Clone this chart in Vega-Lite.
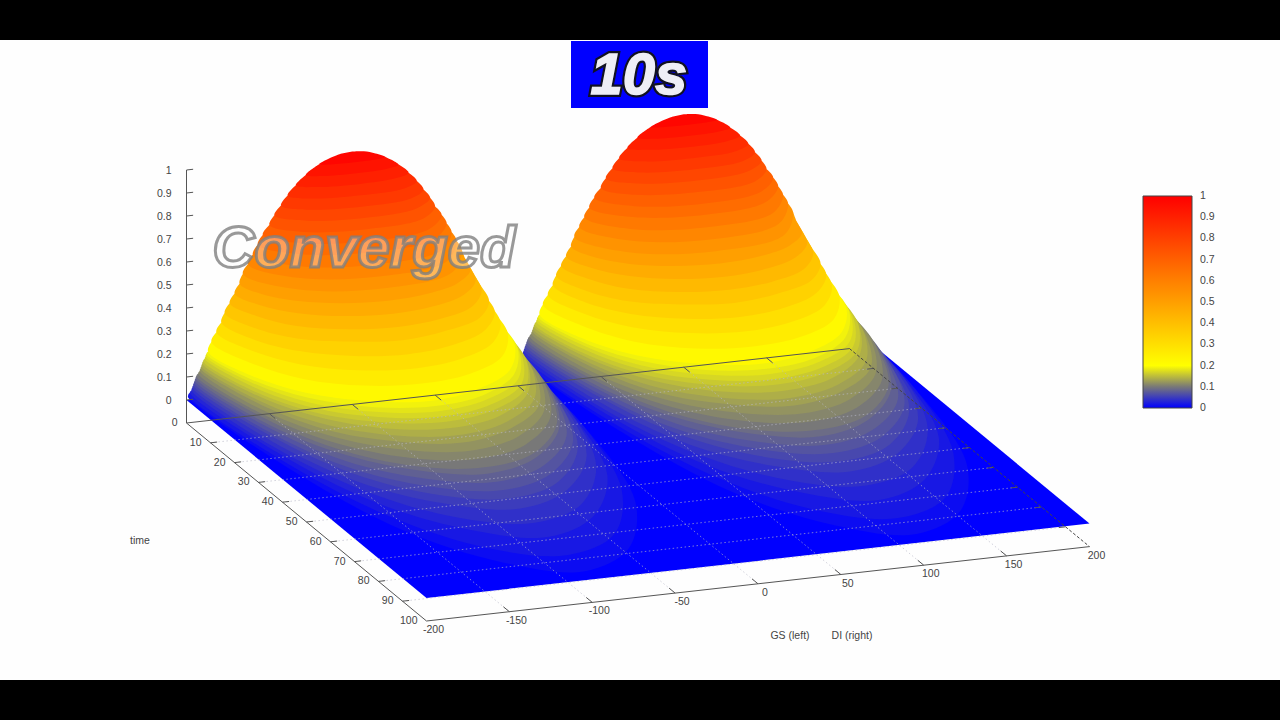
{"$schema":"https://vega.github.io/schema/vega-lite/v6.json","width":1280,"height":640,"autosize":{"type":"none"},"padding":{"top":40,"bottom":40,"left":0,"right":0},"background":"#000000","view":{"fill":"#fefefe","stroke":null},"config":{"text":{"font":"Liberation Sans"}},
"layer":[
{"data":{"values":[{"col":0,"g":-200,"t":0},{"col":0,"g":-200,"t":100},{"col":0,"g":200,"t":100},{"col":0,"g":200,"t":0}]},
"transform":[{"window":[{"op":"row_number","as":"i"}]},{"calculate":"186.5+1.6575*(datum.g+200)+2.4*datum.t","as":"sx"},{"calculate":"400-0.186*(datum.g+200)+1.98*datum.t","as":"sy"}],
"mark":{"type":"line","filled":true,"interpolate":"linear"},
"encoding":{"x":{"field":"sx","type":"quantitative","scale":{"domain":[0,1280],"nice":false,"zero":false},"axis":null},"y":{"field":"sy","type":"quantitative","scale":{"domain":[680,40],"nice":false,"zero":false},"axis":null},"order":{"field":"i","type":"quantitative"},
"color":{"field":"col","type":"quantitative","scale":{"domain":[0,0.1,0.2,1],"range":["#0000ff","#787878","#ffff00","#ff0000"],"interpolate":"rgb"},"legend":{"title":null,"orient":"none","legendX":1143,"legendY":156,"gradientLength":212,"gradientThickness":49,"values":[0,0.2,0.4,0.6,0.8,1],"labelExpr":"''","gradientStrokeColor":"#444444","gradientStrokeWidth":1}}}},
{"data":{"values":[
{"c":0.01,"g":199,"t":0,"z":0.02},{"c":0.01,"g":199,"t":0},{"c":0.01,"g":191,"t":37},{"c":0.01,"g":171,"t":69},{"c":0.01,"g":138,"t":89},{"c":0.01,"g":100,"t":97},{"c":0.01,"g":62,"t":89},{"c":0.01,"g":29,"t":69},{"c":0.01,"g":9,"t":37},{"c":0.01,"g":1,"t":0},{"c":0.01,"g":1,"t":0,"z":0.02},
{"c":0.02,"g":198,"t":0,"z":0.03},{"c":0.02,"g":199,"t":0},{"c":0.02,"g":191,"t":34},{"c":0.02,"g":170,"t":64},{"c":0.02,"g":138,"t":83},{"c":0.02,"g":100,"t":90},{"c":0.02,"g":62,"t":83},{"c":0.02,"g":30,"t":64},{"c":0.02,"g":9,"t":34},{"c":0.02,"g":1,"t":0},{"c":0.02,"g":2,"t":0,"z":0.03},
{"c":0.03,"g":197,"t":0,"z":0.04},{"c":0.03,"g":198,"t":0},{"c":0.03,"g":190,"t":31},{"c":0.03,"g":170,"t":58},{"c":0.03,"g":137,"t":75},{"c":0.03,"g":100,"t":82},{"c":0.03,"g":63,"t":75},{"c":0.03,"g":30,"t":58},{"c":0.03,"g":10,"t":31},{"c":0.03,"g":2,"t":0},{"c":0.03,"g":3,"t":0,"z":0.04},
{"c":0.04,"g":196.5,"t":0,"z":0.05},{"c":0.04,"g":197,"t":0},{"c":0.04,"g":190,"t":29},{"c":0.04,"g":169,"t":54},{"c":0.04,"g":137,"t":70},{"c":0.04,"g":100,"t":76},{"c":0.04,"g":63,"t":70},{"c":0.04,"g":31,"t":54},{"c":0.04,"g":10,"t":29},{"c":0.04,"g":3,"t":0},{"c":0.04,"g":3.5,"t":0,"z":0.05},
{"c":0.05,"g":196,"t":0,"z":0.06},{"c":0.05,"g":196.5,"t":0},{"c":0.05,"g":189,"t":27},{"c":0.05,"g":169,"t":50},{"c":0.05,"g":137,"t":64},{"c":0.05,"g":100,"t":70},{"c":0.05,"g":63,"t":64},{"c":0.05,"g":31,"t":50},{"c":0.05,"g":11,"t":27},{"c":0.05,"g":3.5,"t":0},{"c":0.05,"g":4,"t":0,"z":0.06},
{"c":0.06,"g":195.5,"t":0,"z":0.07},{"c":0.06,"g":196,"t":0},{"c":0.06,"g":188,"t":25},{"c":0.06,"g":168,"t":47},{"c":0.06,"g":136,"t":61},{"c":0.06,"g":100,"t":66},{"c":0.06,"g":64,"t":61},{"c":0.06,"g":32,"t":47},{"c":0.06,"g":12,"t":25},{"c":0.06,"g":4,"t":0},{"c":0.06,"g":4.5,"t":0,"z":0.07},
{"c":0.07,"g":195,"t":0,"z":0.08},{"c":0.07,"g":195.5,"t":0},{"c":0.07,"g":188,"t":24},{"c":0.07,"g":168,"t":45},{"c":0.07,"g":136,"t":58},{"c":0.07,"g":100,"t":63},{"c":0.07,"g":64,"t":58},{"c":0.07,"g":32,"t":45},{"c":0.07,"g":12,"t":24},{"c":0.07,"g":4.5,"t":0},{"c":0.07,"g":5,"t":0,"z":0.08},
{"c":0.08,"g":194.5,"t":0,"z":0.09},{"c":0.08,"g":195,"t":0},{"c":0.08,"g":187,"t":23},{"c":0.08,"g":167,"t":43},{"c":0.08,"g":136,"t":55},{"c":0.08,"g":100,"t":60},{"c":0.08,"g":64,"t":55},{"c":0.08,"g":33,"t":43},{"c":0.08,"g":13,"t":23},{"c":0.08,"g":5,"t":0},{"c":0.08,"g":5.5,"t":0,"z":0.09},
{"c":0.09,"g":194,"t":0,"z":0.1},{"c":0.09,"g":194.5,"t":0},{"c":0.09,"g":187,"t":22},{"c":0.09,"g":167,"t":40},{"c":0.09,"g":136,"t":52},{"c":0.09,"g":100,"t":57},{"c":0.09,"g":64,"t":52},{"c":0.09,"g":33,"t":40},{"c":0.09,"g":13,"t":22},{"c":0.09,"g":5.5,"t":0},{"c":0.09,"g":6,"t":0,"z":0.1},
{"c":0.1,"g":193,"t":0,"z":0.11},{"c":0.1,"g":194,"t":0},{"c":0.1,"g":186,"t":21},{"c":0.1,"g":167,"t":39},{"c":0.1,"g":136,"t":51},{"c":0.1,"g":100,"t":55},{"c":0.1,"g":64,"t":51},{"c":0.1,"g":33,"t":39},{"c":0.1,"g":14,"t":21},{"c":0.1,"g":6,"t":0},{"c":0.1,"g":7,"t":0,"z":0.11},
{"c":0.11,"g":192,"t":0,"z":0.12},{"c":0.11,"g":193,"t":0},{"c":0.11,"g":186,"t":20},{"c":0.11,"g":166,"t":37},{"c":0.11,"g":135,"t":48},{"c":0.11,"g":100,"t":52},{"c":0.11,"g":65,"t":48},{"c":0.11,"g":34,"t":37},{"c":0.11,"g":14,"t":20},{"c":0.11,"g":7,"t":0},{"c":0.11,"g":8,"t":0,"z":0.12},
{"c":0.12,"g":191.5,"t":0,"z":0.13},{"c":0.12,"g":192,"t":0},{"c":0.12,"g":185,"t":19},{"c":0.12,"g":165,"t":35},{"c":0.12,"g":135,"t":45},{"c":0.12,"g":100,"t":49},{"c":0.12,"g":65,"t":45},{"c":0.12,"g":35,"t":35},{"c":0.12,"g":15,"t":19},{"c":0.12,"g":8,"t":0},{"c":0.12,"g":8.5,"t":0,"z":0.13},
{"c":0.13,"g":191,"t":0,"z":0.14},{"c":0.13,"g":191.5,"t":0},{"c":0.13,"g":184,"t":17.5},{"c":0.13,"g":165,"t":33},{"c":0.13,"g":135,"t":42},{"c":0.13,"g":100,"t":46},{"c":0.13,"g":65,"t":42},{"c":0.13,"g":35,"t":33},{"c":0.13,"g":16,"t":17.5},{"c":0.13,"g":8.5,"t":0},{"c":0.13,"g":9,"t":0,"z":0.14},
{"c":0.14,"g":190.5,"t":0,"z":0.15},{"c":0.14,"g":191,"t":0},{"c":0.14,"g":184,"t":16.5},{"c":0.14,"g":165,"t":31},{"c":0.14,"g":135,"t":40},{"c":0.14,"g":100,"t":43.5},{"c":0.14,"g":65,"t":40},{"c":0.14,"g":35,"t":31},{"c":0.14,"g":16,"t":16.5},{"c":0.14,"g":9,"t":0},{"c":0.14,"g":9.5,"t":0,"z":0.15},
{"c":0.15,"g":190,"t":0,"z":0.16},{"c":0.15,"g":190.5,"t":0},{"c":0.15,"g":183,"t":15.6},{"c":0.15,"g":164,"t":29},{"c":0.15,"g":134,"t":38},{"c":0.15,"g":100,"t":41},{"c":0.15,"g":66,"t":38},{"c":0.15,"g":36,"t":29},{"c":0.15,"g":17,"t":15.6},{"c":0.15,"g":9.5,"t":0},{"c":0.15,"g":10,"t":0,"z":0.16},
{"c":0.16,"g":189,"t":0,"z":0.17},{"c":0.16,"g":190,"t":0},{"c":0.16,"g":183,"t":15},{"c":0.16,"g":164,"t":28},{"c":0.16,"g":134,"t":36},{"c":0.16,"g":100,"t":39},{"c":0.16,"g":66,"t":36},{"c":0.16,"g":36,"t":28},{"c":0.16,"g":17,"t":15},{"c":0.16,"g":10,"t":0},{"c":0.16,"g":11,"t":0,"z":0.17},
{"c":0.17,"g":188.5,"t":0,"z":0.18},{"c":0.17,"g":189,"t":0},{"c":0.17,"g":182,"t":14},{"c":0.17,"g":163,"t":27},{"c":0.17,"g":134,"t":34.5},{"c":0.17,"g":100,"t":37.5},{"c":0.17,"g":66,"t":34.5},{"c":0.17,"g":37,"t":27},{"c":0.17,"g":18,"t":14},{"c":0.17,"g":11,"t":0},{"c":0.17,"g":11.5,"t":0,"z":0.18},
{"c":0.18,"g":188,"t":0,"z":0.19},{"c":0.18,"g":188.5,"t":0},{"c":0.18,"g":181,"t":13.7},{"c":0.18,"g":163,"t":25.6},{"c":0.18,"g":134,"t":33},{"c":0.18,"g":100,"t":36},{"c":0.18,"g":66,"t":33},{"c":0.18,"g":37,"t":25.6},{"c":0.18,"g":19,"t":13.7},{"c":0.18,"g":11.5,"t":0},{"c":0.18,"g":12,"t":0,"z":0.19},
{"c":0.19,"g":187,"t":0,"z":0.2},{"c":0.19,"g":188,"t":0},{"c":0.19,"g":181,"t":13},{"c":0.19,"g":162,"t":24.5},{"c":0.19,"g":133,"t":32},{"c":0.19,"g":100,"t":34.5},{"c":0.19,"g":67,"t":32},{"c":0.19,"g":38,"t":24.5},{"c":0.19,"g":19,"t":13},{"c":0.19,"g":12,"t":0},{"c":0.19,"g":13,"t":0,"z":0.2},
{"c":0.2,"g":185,"t":0,"z":0.24},{"c":0.2,"g":187,"t":0},{"c":0.2,"g":180,"t":12.5},{"c":0.2,"g":162,"t":23},{"c":0.2,"g":133,"t":30},{"c":0.2,"g":100,"t":33},{"c":0.2,"g":67,"t":30},{"c":0.2,"g":38,"t":23},{"c":0.2,"g":20,"t":12.5},{"c":0.2,"g":13,"t":0},{"c":0.2,"g":15,"t":0,"z":0.24},
{"c":0.24,"g":182,"t":0,"z":0.28},{"c":0.24,"g":185,"t":0},{"c":0.24,"g":178,"t":11},{"c":0.24,"g":160,"t":21},{"c":0.24,"g":132,"t":27},{"c":0.24,"g":100,"t":29},{"c":0.24,"g":68,"t":27},{"c":0.24,"g":40,"t":21},{"c":0.24,"g":22,"t":11},{"c":0.24,"g":15,"t":0},{"c":0.24,"g":18,"t":0,"z":0.28},
{"c":0.28,"g":179,"t":0,"z":0.32},{"c":0.28,"g":182,"t":0},{"c":0.28,"g":175,"t":10},{"c":0.28,"g":158,"t":18.5},{"c":0.28,"g":131,"t":24},{"c":0.28,"g":100,"t":26},{"c":0.28,"g":69,"t":24},{"c":0.28,"g":42,"t":18.5},{"c":0.28,"g":25,"t":10},{"c":0.28,"g":18,"t":0},{"c":0.28,"g":21,"t":0,"z":0.32},
{"c":0.32,"g":177,"t":0,"z":0.36},{"c":0.32,"g":179,"t":0},{"c":0.32,"g":173,"t":9},{"c":0.32,"g":156,"t":16.6},{"c":0.32,"g":130,"t":21.5},{"c":0.32,"g":100,"t":23.4},{"c":0.32,"g":70,"t":21.5},{"c":0.32,"g":44,"t":16.6},{"c":0.32,"g":27,"t":9},{"c":0.32,"g":21,"t":0},{"c":0.32,"g":23,"t":0,"z":0.36},
{"c":0.36,"g":174,"t":0,"z":0.4},{"c":0.36,"g":177,"t":0},{"c":0.36,"g":171,"t":8},{"c":0.36,"g":155,"t":15},{"c":0.36,"g":129,"t":19},{"c":0.36,"g":100,"t":21},{"c":0.36,"g":71,"t":19},{"c":0.36,"g":45,"t":15},{"c":0.36,"g":29,"t":8},{"c":0.36,"g":23,"t":0},{"c":0.36,"g":26,"t":0,"z":0.4},
{"c":0.4,"g":171,"t":0,"z":0.44},{"c":0.4,"g":174,"t":0},{"c":0.4,"g":168,"t":7},{"c":0.4,"g":153,"t":13.5},{"c":0.4,"g":128,"t":17.5},{"c":0.4,"g":100,"t":19},{"c":0.4,"g":72,"t":17.5},{"c":0.4,"g":47,"t":13.5},{"c":0.4,"g":32,"t":7},{"c":0.4,"g":26,"t":0},{"c":0.4,"g":29,"t":0,"z":0.44},
{"c":0.44,"g":168,"t":0,"z":0.48},{"c":0.44,"g":171,"t":0},{"c":0.44,"g":165,"t":6.5},{"c":0.44,"g":150,"t":12},{"c":0.44,"g":127,"t":15.6},{"c":0.44,"g":100,"t":17},{"c":0.44,"g":73,"t":15.6},{"c":0.44,"g":50,"t":12},{"c":0.44,"g":35,"t":6.5},{"c":0.44,"g":29,"t":0},{"c":0.44,"g":32,"t":0,"z":0.48},
{"c":0.48,"g":166,"t":0,"z":0.52},{"c":0.48,"g":168,"t":0},{"c":0.48,"g":163,"t":5.7},{"c":0.48,"g":148,"t":10.7},{"c":0.48,"g":126,"t":13.8},{"c":0.48,"g":100,"t":15},{"c":0.48,"g":74,"t":13.8},{"c":0.48,"g":52,"t":10.7},{"c":0.48,"g":37,"t":5.7},{"c":0.48,"g":32,"t":0},{"c":0.48,"g":34,"t":0,"z":0.52},
{"c":0.52,"g":163,"t":0,"z":0.56},{"c":0.52,"g":166,"t":0},{"c":0.52,"g":147,"t":9.5},{"c":0.52,"g":100,"t":13.4},{"c":0.52,"g":53,"t":9.5},{"c":0.52,"g":34,"t":0},{"c":0.52,"g":37,"t":0,"z":0.56},
{"c":0.56,"g":160,"t":0,"z":0.6},{"c":0.56,"g":163,"t":0},{"c":0.56,"g":145,"t":8.5},{"c":0.56,"g":100,"t":12},{"c":0.56,"g":55,"t":8.5},{"c":0.56,"g":37,"t":0},{"c":0.56,"g":40,"t":0,"z":0.6},
{"c":0.6,"g":157,"t":0,"z":0.64},{"c":0.6,"g":160,"t":0},{"c":0.6,"g":143,"t":7.5},{"c":0.6,"g":100,"t":10.5},{"c":0.6,"g":57,"t":7.5},{"c":0.6,"g":40,"t":0},{"c":0.6,"g":43,"t":0,"z":0.64},
{"c":0.64,"g":154,"t":0,"z":0.68},{"c":0.64,"g":157,"t":0},{"c":0.64,"g":140,"t":6.4},{"c":0.64,"g":100,"t":9},{"c":0.64,"g":60,"t":6.4},{"c":0.64,"g":43,"t":0},{"c":0.64,"g":46,"t":0,"z":0.68},
{"c":0.68,"g":150,"t":0,"z":0.72},{"c":0.68,"g":154,"t":0},{"c":0.68,"g":138,"t":5.7},{"c":0.68,"g":100,"t":8},{"c":0.68,"g":62,"t":5.7},{"c":0.68,"g":46,"t":0},{"c":0.68,"g":50,"t":0,"z":0.72},
{"c":0.72,"g":147,"t":0,"z":0.76},{"c":0.72,"g":150,"t":0},{"c":0.72,"g":136,"t":4.8},{"c":0.72,"g":100,"t":6.7},{"c":0.72,"g":64,"t":4.8},{"c":0.72,"g":50,"t":0},{"c":0.72,"g":53,"t":0,"z":0.76},
{"c":0.76,"g":143,"t":0,"z":0.8},{"c":0.76,"g":147,"t":0},{"c":0.76,"g":133,"t":4},{"c":0.76,"g":100,"t":5.6},{"c":0.76,"g":67,"t":4},{"c":0.76,"g":53,"t":0},{"c":0.76,"g":57,"t":0,"z":0.8},
{"c":0.8,"g":139,"t":0,"z":0.84},{"c":0.8,"g":143,"t":0},{"c":0.8,"g":131,"t":3.3},{"c":0.8,"g":100,"t":4.6},{"c":0.8,"g":69,"t":3.3},{"c":0.8,"g":57,"t":0},{"c":0.8,"g":61,"t":0,"z":0.84},
{"c":0.84,"g":134,"t":0,"z":0.88},{"c":0.84,"g":139,"t":0},{"c":0.84,"g":128,"t":2.6},{"c":0.84,"g":100,"t":3.6},{"c":0.84,"g":72,"t":2.6},{"c":0.84,"g":61,"t":0},{"c":0.84,"g":66,"t":0,"z":0.88},
{"c":0.88,"g":128,"t":0,"z":0.92},{"c":0.88,"g":134,"t":0},{"c":0.88,"g":124,"t":1.8},{"c":0.88,"g":100,"t":2.6},{"c":0.88,"g":76,"t":1.8},{"c":0.88,"g":66,"t":0},{"c":0.88,"g":72,"t":0,"z":0.92},
{"c":0.92,"g":120,"t":0,"z":0.96},{"c":0.92,"g":128,"t":0},{"c":0.92,"g":120,"t":1.2},{"c":0.92,"g":100,"t":1.7},{"c":0.92,"g":80,"t":1.2},{"c":0.92,"g":72,"t":0},{"c":0.92,"g":80,"t":0,"z":0.96},
{"c":0.96,"g":100,"t":0,"z":1},{"c":0.96,"g":107,"t":0,"z":0.995},{"c":0.96,"g":114,"t":0,"z":0.98},{"c":0.96,"g":120,"t":0},{"c":0.96,"g":114,"t":0.6},{"c":0.96,"g":100,"t":0.8},{"c":0.96,"g":86,"t":0.6},{"c":0.96,"g":80,"t":0},{"c":0.96,"g":86,"t":0,"z":0.98},{"c":0.96,"g":93,"t":0,"z":0.995},
{"c":0.01,"g":-1,"t":0,"z":0.02},{"c":0.01,"g":-1,"t":0},{"c":0.01,"g":-9,"t":37},{"c":0.01,"g":-29,"t":69},{"c":0.01,"g":-62,"t":89},{"c":0.01,"g":-100,"t":97},{"c":0.01,"g":-138,"t":89},{"c":0.01,"g":-171,"t":69},{"c":0.01,"g":-191,"t":37},{"c":0.01,"g":-199,"t":0},{"c":0.01,"g":-199,"t":0,"z":0.02},
{"c":0.02,"g":-2,"t":0,"z":0.03},{"c":0.02,"g":-1,"t":0},{"c":0.02,"g":-9,"t":34},{"c":0.02,"g":-30,"t":64},{"c":0.02,"g":-62,"t":83},{"c":0.02,"g":-100,"t":90},{"c":0.02,"g":-138,"t":83},{"c":0.02,"g":-170,"t":64},{"c":0.02,"g":-191,"t":34},{"c":0.02,"g":-199,"t":0},{"c":0.02,"g":-198,"t":0,"z":0.03},
{"c":0.03,"g":-3,"t":0,"z":0.04},{"c":0.03,"g":-2,"t":0},{"c":0.03,"g":-10,"t":31},{"c":0.03,"g":-30,"t":58},{"c":0.03,"g":-63,"t":75},{"c":0.03,"g":-100,"t":82},{"c":0.03,"g":-137,"t":75},{"c":0.03,"g":-170,"t":58},{"c":0.03,"g":-190,"t":31},{"c":0.03,"g":-198,"t":0},{"c":0.03,"g":-197,"t":0,"z":0.04},
{"c":0.04,"g":-3.5,"t":0,"z":0.05},{"c":0.04,"g":-3,"t":0},{"c":0.04,"g":-10,"t":29},{"c":0.04,"g":-31,"t":54},{"c":0.04,"g":-63,"t":70},{"c":0.04,"g":-100,"t":76},{"c":0.04,"g":-137,"t":70},{"c":0.04,"g":-169,"t":54},{"c":0.04,"g":-190,"t":29},{"c":0.04,"g":-197,"t":0},{"c":0.04,"g":-196.5,"t":0,"z":0.05},
{"c":0.05,"g":-4,"t":0,"z":0.06},{"c":0.05,"g":-3.5,"t":0},{"c":0.05,"g":-11,"t":27},{"c":0.05,"g":-31,"t":50},{"c":0.05,"g":-63,"t":64},{"c":0.05,"g":-100,"t":70},{"c":0.05,"g":-137,"t":64},{"c":0.05,"g":-169,"t":50},{"c":0.05,"g":-189,"t":27},{"c":0.05,"g":-196.5,"t":0},{"c":0.05,"g":-196,"t":0,"z":0.06},
{"c":0.06,"g":-4.5,"t":0,"z":0.07},{"c":0.06,"g":-4,"t":0},{"c":0.06,"g":-12,"t":25},{"c":0.06,"g":-32,"t":47},{"c":0.06,"g":-64,"t":61},{"c":0.06,"g":-100,"t":66},{"c":0.06,"g":-136,"t":61},{"c":0.06,"g":-168,"t":47},{"c":0.06,"g":-188,"t":25},{"c":0.06,"g":-196,"t":0},{"c":0.06,"g":-195.5,"t":0,"z":0.07},
{"c":0.07,"g":-5,"t":0,"z":0.08},{"c":0.07,"g":-4.5,"t":0},{"c":0.07,"g":-12,"t":24},{"c":0.07,"g":-32,"t":45},{"c":0.07,"g":-64,"t":58},{"c":0.07,"g":-100,"t":63},{"c":0.07,"g":-136,"t":58},{"c":0.07,"g":-168,"t":45},{"c":0.07,"g":-188,"t":24},{"c":0.07,"g":-195.5,"t":0},{"c":0.07,"g":-195,"t":0,"z":0.08},
{"c":0.08,"g":-5.5,"t":0,"z":0.09},{"c":0.08,"g":-5,"t":0},{"c":0.08,"g":-13,"t":23},{"c":0.08,"g":-33,"t":43},{"c":0.08,"g":-64,"t":55},{"c":0.08,"g":-100,"t":60},{"c":0.08,"g":-136,"t":55},{"c":0.08,"g":-167,"t":43},{"c":0.08,"g":-187,"t":23},{"c":0.08,"g":-195,"t":0},{"c":0.08,"g":-194.5,"t":0,"z":0.09},
{"c":0.09,"g":-6,"t":0,"z":0.1},{"c":0.09,"g":-5.5,"t":0},{"c":0.09,"g":-13,"t":22},{"c":0.09,"g":-33,"t":40},{"c":0.09,"g":-64,"t":52},{"c":0.09,"g":-100,"t":57},{"c":0.09,"g":-136,"t":52},{"c":0.09,"g":-167,"t":40},{"c":0.09,"g":-187,"t":22},{"c":0.09,"g":-194.5,"t":0},{"c":0.09,"g":-194,"t":0,"z":0.1},
{"c":0.1,"g":-7,"t":0,"z":0.11},{"c":0.1,"g":-6,"t":0},{"c":0.1,"g":-14,"t":21},{"c":0.1,"g":-33,"t":39},{"c":0.1,"g":-64,"t":51},{"c":0.1,"g":-100,"t":55},{"c":0.1,"g":-136,"t":51},{"c":0.1,"g":-167,"t":39},{"c":0.1,"g":-186,"t":21},{"c":0.1,"g":-194,"t":0},{"c":0.1,"g":-193,"t":0,"z":0.11},
{"c":0.11,"g":-8,"t":0,"z":0.12},{"c":0.11,"g":-7,"t":0},{"c":0.11,"g":-14,"t":20},{"c":0.11,"g":-34,"t":37},{"c":0.11,"g":-65,"t":48},{"c":0.11,"g":-100,"t":52},{"c":0.11,"g":-135,"t":48},{"c":0.11,"g":-166,"t":37},{"c":0.11,"g":-186,"t":20},{"c":0.11,"g":-193,"t":0},{"c":0.11,"g":-192,"t":0,"z":0.12},
{"c":0.12,"g":-8.5,"t":0,"z":0.13},{"c":0.12,"g":-8,"t":0},{"c":0.12,"g":-15,"t":19},{"c":0.12,"g":-35,"t":35},{"c":0.12,"g":-65,"t":45},{"c":0.12,"g":-100,"t":49},{"c":0.12,"g":-135,"t":45},{"c":0.12,"g":-165,"t":35},{"c":0.12,"g":-185,"t":19},{"c":0.12,"g":-192,"t":0},{"c":0.12,"g":-191.5,"t":0,"z":0.13},
{"c":0.13,"g":-9,"t":0,"z":0.14},{"c":0.13,"g":-8.5,"t":0},{"c":0.13,"g":-16,"t":17.5},{"c":0.13,"g":-35,"t":33},{"c":0.13,"g":-65,"t":42},{"c":0.13,"g":-100,"t":46},{"c":0.13,"g":-135,"t":42},{"c":0.13,"g":-165,"t":33},{"c":0.13,"g":-184,"t":17.5},{"c":0.13,"g":-191.5,"t":0},{"c":0.13,"g":-191,"t":0,"z":0.14},
{"c":0.14,"g":-9.5,"t":0,"z":0.15},{"c":0.14,"g":-9,"t":0},{"c":0.14,"g":-16,"t":16.5},{"c":0.14,"g":-35,"t":31},{"c":0.14,"g":-65,"t":40},{"c":0.14,"g":-100,"t":43.5},{"c":0.14,"g":-135,"t":40},{"c":0.14,"g":-165,"t":31},{"c":0.14,"g":-184,"t":16.5},{"c":0.14,"g":-191,"t":0},{"c":0.14,"g":-190.5,"t":0,"z":0.15},
{"c":0.15,"g":-10,"t":0,"z":0.16},{"c":0.15,"g":-9.5,"t":0},{"c":0.15,"g":-17,"t":15.6},{"c":0.15,"g":-36,"t":29},{"c":0.15,"g":-66,"t":38},{"c":0.15,"g":-100,"t":41},{"c":0.15,"g":-134,"t":38},{"c":0.15,"g":-164,"t":29},{"c":0.15,"g":-183,"t":15.6},{"c":0.15,"g":-190.5,"t":0},{"c":0.15,"g":-190,"t":0,"z":0.16},
{"c":0.16,"g":-11,"t":0,"z":0.17},{"c":0.16,"g":-10,"t":0},{"c":0.16,"g":-17,"t":15},{"c":0.16,"g":-36,"t":28},{"c":0.16,"g":-66,"t":36},{"c":0.16,"g":-100,"t":39},{"c":0.16,"g":-134,"t":36},{"c":0.16,"g":-164,"t":28},{"c":0.16,"g":-183,"t":15},{"c":0.16,"g":-190,"t":0},{"c":0.16,"g":-189,"t":0,"z":0.17},
{"c":0.17,"g":-11.5,"t":0,"z":0.18},{"c":0.17,"g":-11,"t":0},{"c":0.17,"g":-18,"t":14},{"c":0.17,"g":-37,"t":27},{"c":0.17,"g":-66,"t":34.5},{"c":0.17,"g":-100,"t":37.5},{"c":0.17,"g":-134,"t":34.5},{"c":0.17,"g":-163,"t":27},{"c":0.17,"g":-182,"t":14},{"c":0.17,"g":-189,"t":0},{"c":0.17,"g":-188.5,"t":0,"z":0.18},
{"c":0.18,"g":-12,"t":0,"z":0.19},{"c":0.18,"g":-11.5,"t":0},{"c":0.18,"g":-19,"t":13.7},{"c":0.18,"g":-37,"t":25.6},{"c":0.18,"g":-66,"t":33},{"c":0.18,"g":-100,"t":36},{"c":0.18,"g":-134,"t":33},{"c":0.18,"g":-163,"t":25.6},{"c":0.18,"g":-181,"t":13.7},{"c":0.18,"g":-188.5,"t":0},{"c":0.18,"g":-188,"t":0,"z":0.19},
{"c":0.19,"g":-13,"t":0,"z":0.2},{"c":0.19,"g":-12,"t":0},{"c":0.19,"g":-19,"t":13},{"c":0.19,"g":-38,"t":24.5},{"c":0.19,"g":-67,"t":32},{"c":0.19,"g":-100,"t":34.5},{"c":0.19,"g":-133,"t":32},{"c":0.19,"g":-162,"t":24.5},{"c":0.19,"g":-181,"t":13},{"c":0.19,"g":-188,"t":0},{"c":0.19,"g":-187,"t":0,"z":0.2},
{"c":0.2,"g":-15,"t":0,"z":0.24},{"c":0.2,"g":-13,"t":0},{"c":0.2,"g":-20,"t":12.5},{"c":0.2,"g":-38,"t":23},{"c":0.2,"g":-67,"t":30},{"c":0.2,"g":-100,"t":33},{"c":0.2,"g":-133,"t":30},{"c":0.2,"g":-162,"t":23},{"c":0.2,"g":-180,"t":12.5},{"c":0.2,"g":-187,"t":0},{"c":0.2,"g":-185,"t":0,"z":0.24},
{"c":0.24,"g":-18,"t":0,"z":0.28},{"c":0.24,"g":-15,"t":0},{"c":0.24,"g":-22,"t":11},{"c":0.24,"g":-40,"t":21},{"c":0.24,"g":-68,"t":27},{"c":0.24,"g":-100,"t":29},{"c":0.24,"g":-132,"t":27},{"c":0.24,"g":-160,"t":21},{"c":0.24,"g":-178,"t":11},{"c":0.24,"g":-185,"t":0},{"c":0.24,"g":-182,"t":0,"z":0.28},
{"c":0.28,"g":-21,"t":0,"z":0.32},{"c":0.28,"g":-18,"t":0},{"c":0.28,"g":-25,"t":10},{"c":0.28,"g":-42,"t":18.5},{"c":0.28,"g":-69,"t":24},{"c":0.28,"g":-100,"t":26},{"c":0.28,"g":-131,"t":24},{"c":0.28,"g":-158,"t":18.5},{"c":0.28,"g":-175,"t":10},{"c":0.28,"g":-182,"t":0},{"c":0.28,"g":-179,"t":0,"z":0.32},
{"c":0.32,"g":-23,"t":0,"z":0.36},{"c":0.32,"g":-21,"t":0},{"c":0.32,"g":-27,"t":9},{"c":0.32,"g":-44,"t":16.6},{"c":0.32,"g":-70,"t":21.5},{"c":0.32,"g":-100,"t":23.4},{"c":0.32,"g":-130,"t":21.5},{"c":0.32,"g":-156,"t":16.6},{"c":0.32,"g":-173,"t":9},{"c":0.32,"g":-179,"t":0},{"c":0.32,"g":-177,"t":0,"z":0.36},
{"c":0.36,"g":-26,"t":0,"z":0.4},{"c":0.36,"g":-23,"t":0},{"c":0.36,"g":-29,"t":8},{"c":0.36,"g":-45,"t":15},{"c":0.36,"g":-71,"t":19},{"c":0.36,"g":-100,"t":21},{"c":0.36,"g":-129,"t":19},{"c":0.36,"g":-155,"t":15},{"c":0.36,"g":-171,"t":8},{"c":0.36,"g":-177,"t":0},{"c":0.36,"g":-174,"t":0,"z":0.4},
{"c":0.4,"g":-29,"t":0,"z":0.44},{"c":0.4,"g":-26,"t":0},{"c":0.4,"g":-32,"t":7},{"c":0.4,"g":-47,"t":13.5},{"c":0.4,"g":-72,"t":17.5},{"c":0.4,"g":-100,"t":19},{"c":0.4,"g":-128,"t":17.5},{"c":0.4,"g":-153,"t":13.5},{"c":0.4,"g":-168,"t":7},{"c":0.4,"g":-174,"t":0},{"c":0.4,"g":-171,"t":0,"z":0.44},
{"c":0.44,"g":-32,"t":0,"z":0.48},{"c":0.44,"g":-29,"t":0},{"c":0.44,"g":-35,"t":6.5},{"c":0.44,"g":-50,"t":12},{"c":0.44,"g":-73,"t":15.6},{"c":0.44,"g":-100,"t":17},{"c":0.44,"g":-127,"t":15.6},{"c":0.44,"g":-150,"t":12},{"c":0.44,"g":-165,"t":6.5},{"c":0.44,"g":-171,"t":0},{"c":0.44,"g":-168,"t":0,"z":0.48},
{"c":0.48,"g":-34,"t":0,"z":0.52},{"c":0.48,"g":-32,"t":0},{"c":0.48,"g":-37,"t":5.7},{"c":0.48,"g":-52,"t":10.7},{"c":0.48,"g":-74,"t":13.8},{"c":0.48,"g":-100,"t":15},{"c":0.48,"g":-126,"t":13.8},{"c":0.48,"g":-148,"t":10.7},{"c":0.48,"g":-163,"t":5.7},{"c":0.48,"g":-168,"t":0},{"c":0.48,"g":-166,"t":0,"z":0.52},
{"c":0.52,"g":-37,"t":0,"z":0.56},{"c":0.52,"g":-34,"t":0},{"c":0.52,"g":-53,"t":9.5},{"c":0.52,"g":-100,"t":13.4},{"c":0.52,"g":-147,"t":9.5},{"c":0.52,"g":-166,"t":0},{"c":0.52,"g":-163,"t":0,"z":0.56},
{"c":0.56,"g":-40,"t":0,"z":0.6},{"c":0.56,"g":-37,"t":0},{"c":0.56,"g":-55,"t":8.5},{"c":0.56,"g":-100,"t":12},{"c":0.56,"g":-145,"t":8.5},{"c":0.56,"g":-163,"t":0},{"c":0.56,"g":-160,"t":0,"z":0.6},
{"c":0.6,"g":-43,"t":0,"z":0.64},{"c":0.6,"g":-40,"t":0},{"c":0.6,"g":-57,"t":7.5},{"c":0.6,"g":-100,"t":10.5},{"c":0.6,"g":-143,"t":7.5},{"c":0.6,"g":-160,"t":0},{"c":0.6,"g":-157,"t":0,"z":0.64},
{"c":0.64,"g":-46,"t":0,"z":0.68},{"c":0.64,"g":-43,"t":0},{"c":0.64,"g":-60,"t":6.4},{"c":0.64,"g":-100,"t":9},{"c":0.64,"g":-140,"t":6.4},{"c":0.64,"g":-157,"t":0},{"c":0.64,"g":-154,"t":0,"z":0.68},
{"c":0.68,"g":-50,"t":0,"z":0.72},{"c":0.68,"g":-46,"t":0},{"c":0.68,"g":-62,"t":5.7},{"c":0.68,"g":-100,"t":8},{"c":0.68,"g":-138,"t":5.7},{"c":0.68,"g":-154,"t":0},{"c":0.68,"g":-150,"t":0,"z":0.72},
{"c":0.72,"g":-53,"t":0,"z":0.76},{"c":0.72,"g":-50,"t":0},{"c":0.72,"g":-64,"t":4.8},{"c":0.72,"g":-100,"t":6.7},{"c":0.72,"g":-136,"t":4.8},{"c":0.72,"g":-150,"t":0},{"c":0.72,"g":-147,"t":0,"z":0.76},
{"c":0.76,"g":-57,"t":0,"z":0.8},{"c":0.76,"g":-53,"t":0},{"c":0.76,"g":-67,"t":4},{"c":0.76,"g":-100,"t":5.6},{"c":0.76,"g":-133,"t":4},{"c":0.76,"g":-147,"t":0},{"c":0.76,"g":-143,"t":0,"z":0.8},
{"c":0.8,"g":-61,"t":0,"z":0.84},{"c":0.8,"g":-57,"t":0},{"c":0.8,"g":-69,"t":3.3},{"c":0.8,"g":-100,"t":4.6},{"c":0.8,"g":-131,"t":3.3},{"c":0.8,"g":-143,"t":0},{"c":0.8,"g":-139,"t":0,"z":0.84},
{"c":0.84,"g":-66,"t":0,"z":0.88},{"c":0.84,"g":-61,"t":0},{"c":0.84,"g":-72,"t":2.6},{"c":0.84,"g":-100,"t":3.6},{"c":0.84,"g":-128,"t":2.6},{"c":0.84,"g":-139,"t":0},{"c":0.84,"g":-134,"t":0,"z":0.88},
{"c":0.88,"g":-72,"t":0,"z":0.92},{"c":0.88,"g":-66,"t":0},{"c":0.88,"g":-76,"t":1.8},{"c":0.88,"g":-100,"t":2.6},{"c":0.88,"g":-124,"t":1.8},{"c":0.88,"g":-134,"t":0},{"c":0.88,"g":-128,"t":0,"z":0.92},
{"c":0.92,"g":-80,"t":0,"z":0.96},{"c":0.92,"g":-72,"t":0},{"c":0.92,"g":-80,"t":1.2},{"c":0.92,"g":-100,"t":1.7},{"c":0.92,"g":-120,"t":1.2},{"c":0.92,"g":-128,"t":0},{"c":0.92,"g":-120,"t":0,"z":0.96},
{"c":0.96,"g":-100,"t":0,"z":1},{"c":0.96,"g":-93,"t":0,"z":0.995},{"c":0.96,"g":-86,"t":0,"z":0.98},{"c":0.96,"g":-80,"t":0},{"c":0.96,"g":-86,"t":0.6},{"c":0.96,"g":-100,"t":0.8},{"c":0.96,"g":-114,"t":0.6},{"c":0.96,"g":-120,"t":0},{"c":0.96,"g":-114,"t":0,"z":0.98},{"c":0.96,"g":-107,"t":0,"z":0.995}
]},
"transform":[{"window":[{"op":"row_number","as":"i"}]},{"calculate":"datum.g<0?1:2","as":"h"},{"calculate":"datum.c>=0.2?datum.c+0.02:datum.c","as":"col"},{"calculate":"isValid(datum.z)?datum.z:datum.c","as":"zz"},{"calculate":"186.5+1.6575*(datum.g+200)+2.4*datum.t","as":"sx"},{"calculate":"400-0.186*(datum.g+200)+1.98*datum.t-230*datum.zz","as":"sy"}],
"mark":{"type":"line","filled":true,"interpolate":"catmull-rom"},
"encoding":{"x":{"field":"sx","type":"quantitative","scale":{"domain":[0,1280],"nice":false,"zero":false},"axis":null},"y":{"field":"sy","type":"quantitative","scale":{"domain":[680,40],"nice":false,"zero":false},"axis":null},"order":{"field":"i","type":"quantitative"},"detail":[{"field":"h"},{"field":"c"}],
"color":{"field":"col","type":"quantitative","scale":{"domain":[0,0.1,0.2,1],"range":["#0000ff","#787878","#ffff00","#ff0000"],"interpolate":"rgb"},"legend":{"title":null,"orient":"none","legendX":1143,"legendY":156,"gradientLength":212,"gradientThickness":49,"values":[0,0.2,0.4,0.6,0.8,1],"labelExpr":"''","gradientStrokeColor":"#444444","gradientStrokeWidth":1}}}},
{"data":{"values":[{"g":-200,"t":10,"g2":200,"t2":10},{"g":-200,"t":20,"g2":200,"t2":20},{"g":-200,"t":30,"g2":200,"t2":30},{"g":-200,"t":40,"g2":200,"t2":40},{"g":-200,"t":50,"g2":200,"t2":50},{"g":-200,"t":60,"g2":200,"t2":60},{"g":-200,"t":70,"g2":200,"t2":70},{"g":-200,"t":80,"g2":200,"t2":80},{"g":-200,"t":90,"g2":200,"t2":90},{"g":-150,"t":0,"g2":-150,"t2":100},{"g":-100,"t":0,"g2":-100,"t2":100},{"g":-50,"t":0,"g2":-50,"t2":100},{"g":0,"t":0,"g2":0,"t2":100},{"g":50,"t":0,"g2":50,"t2":100},{"g":100,"t":0,"g2":100,"t2":100},{"g":150,"t":0,"g2":150,"t2":100}]},
"transform":[{"calculate":"186.5+1.6575*(datum.g+200)+2.4*datum.t","as":"sx"},{"calculate":"423-0.186*(datum.g+200)+1.98*datum.t","as":"sy"},{"calculate":"186.5+1.6575*(datum.g2+200)+2.4*datum.t2","as":"sx2"},{"calculate":"423-0.186*(datum.g2+200)+1.98*datum.t2","as":"sy2"}],
"mark":{"type":"rule","color":"#b8b8c8","strokeWidth":1,"strokeDash":[1.5,2.5],"opacity":0.65},
"encoding":{"x":{"field":"sx","type":"quantitative","scale":{"domain":[0,1280],"nice":false,"zero":false},"axis":null},"y":{"field":"sy","type":"quantitative","scale":{"domain":[680,40],"nice":false,"zero":false},"axis":null},"x2":{"field":"sx2"},"y2":{"field":"sy2"}}},
{"data":{"values":[{"g":-200,"t":0,"g2":200,"t2":0},{"g":-200,"t":100,"g2":200,"t2":100},{"g":-200,"t":0,"g2":-200,"t2":100},{"g":-200,"t":0,"g2":-200,"t2":0,"z":-0.1,"z2":1},
{"g":-150,"t":0,"g2":-150,"t2":2.5},{"g":-100,"t":0,"g2":-100,"t2":2.5},{"g":-50,"t":0,"g2":-50,"t2":2.5},{"g":0,"t":0,"g2":0,"t2":2.5},{"g":50,"t":0,"g2":50,"t2":2.5},{"g":100,"t":0,"g2":100,"t2":2.5},{"g":150,"t":0,"g2":150,"t2":2.5},
{"g":-150,"t":100,"g2":-150,"t2":97.5},{"g":-100,"t":100,"g2":-100,"t2":97.5},{"g":-50,"t":100,"g2":-50,"t2":97.5},{"g":0,"t":100,"g2":0,"t2":97.5},{"g":50,"t":100,"g2":50,"t2":97.5},{"g":100,"t":100,"g2":100,"t2":97.5},{"g":150,"t":100,"g2":150,"t2":97.5},
{"g":-200,"t":10,"g2":-196,"t2":10},{"g":-200,"t":20,"g2":-196,"t2":20},{"g":-200,"t":30,"g2":-196,"t2":30},{"g":-200,"t":40,"g2":-196,"t2":40},{"g":-200,"t":50,"g2":-196,"t2":50},{"g":-200,"t":60,"g2":-196,"t2":60},{"g":-200,"t":70,"g2":-196,"t2":70},{"g":-200,"t":80,"g2":-196,"t2":80},{"g":-200,"t":90,"g2":-196,"t2":90},
{"g":200,"t":10,"g2":196,"t2":10},{"g":200,"t":20,"g2":196,"t2":20},{"g":200,"t":30,"g2":196,"t2":30},{"g":200,"t":40,"g2":196,"t2":40},{"g":200,"t":50,"g2":196,"t2":50},{"g":200,"t":60,"g2":196,"t2":60},{"g":200,"t":70,"g2":196,"t2":70},{"g":200,"t":80,"g2":196,"t2":80},{"g":200,"t":90,"g2":196,"t2":90},
{"g":-200,"t":0,"g2":-196,"t2":0,"z":0,"z2":0},{"g":-200,"t":0,"g2":-196,"t2":0,"z":0.1,"z2":0.1},{"g":-200,"t":0,"g2":-196,"t2":0,"z":0.2,"z2":0.2},{"g":-200,"t":0,"g2":-196,"t2":0,"z":0.3,"z2":0.3},{"g":-200,"t":0,"g2":-196,"t2":0,"z":0.4,"z2":0.4},{"g":-200,"t":0,"g2":-196,"t2":0,"z":0.5,"z2":0.5},{"g":-200,"t":0,"g2":-196,"t2":0,"z":0.6,"z2":0.6},{"g":-200,"t":0,"g2":-196,"t2":0,"z":0.7,"z2":0.7},{"g":-200,"t":0,"g2":-196,"t2":0,"z":0.8,"z2":0.8},{"g":-200,"t":0,"g2":-196,"t2":0,"z":0.9,"z2":0.9},{"g":-200,"t":0,"g2":-196,"t2":0,"z":1,"z2":1}]},
"transform":[{"calculate":"186.5+1.6575*(datum.g+200)+2.4*datum.t","as":"sx"},{"calculate":"400-0.186*(datum.g+200)+1.98*datum.t-230*(isValid(datum.z)?datum.z:-0.1)","as":"sy"},{"calculate":"186.5+1.6575*(datum.g2+200)+2.4*datum.t2","as":"sx2"},{"calculate":"400-0.186*(datum.g2+200)+1.98*datum.t2-230*(isValid(datum.z2)?datum.z2:-0.1)","as":"sy2"}],
"mark":{"type":"rule","color":"#555555","strokeWidth":1},
"encoding":{"x":{"field":"sx","type":"quantitative","scale":{"domain":[0,1280],"nice":false,"zero":false},"axis":null},"y":{"field":"sy","type":"quantitative","scale":{"domain":[680,40],"nice":false,"zero":false},"axis":null},"x2":{"field":"sx2"},"y2":{"field":"sy2"}}},
{"data":{"values":[{"g":200,"t":0,"g2":200,"t2":100}]},
"transform":[{"calculate":"186.5+1.6575*(datum.g+200)+2.4*datum.t","as":"sx"},{"calculate":"423-0.186*(datum.g+200)+1.98*datum.t","as":"sy"},{"calculate":"186.5+1.6575*(datum.g2+200)+2.4*datum.t2","as":"sx2"},{"calculate":"423-0.186*(datum.g2+200)+1.98*datum.t2","as":"sy2"}],
"mark":{"type":"rule","color":"#444444","strokeWidth":1,"strokeDash":[3,2]},
"encoding":{"x":{"field":"sx","type":"quantitative","scale":{"domain":[0,1280],"nice":false,"zero":false},"axis":null},"y":{"field":"sy","type":"quantitative","scale":{"domain":[680,40],"nice":false,"zero":false},"axis":null},"x2":{"field":"sx2"},"y2":{"field":"sy2"}}},
{"data":{"values":[{"s":"0","g":-203.6,"t":0,"z":0},{"s":"0.1","g":-203.6,"t":0,"z":0.1},{"s":"0.2","g":-203.6,"t":0,"z":0.2},{"s":"0.3","g":-203.6,"t":0,"z":0.3},{"s":"0.4","g":-203.6,"t":0,"z":0.4},{"s":"0.5","g":-203.6,"t":0,"z":0.5},{"s":"0.6","g":-203.6,"t":0,"z":0.6},{"s":"0.7","g":-203.6,"t":0,"z":0.7},{"s":"0.8","g":-203.6,"t":0,"z":0.8},{"s":"0.9","g":-203.6,"t":0,"z":0.9},{"s":"1","g":-203.6,"t":0,"z":1},
{"s":"0","g":-200,"t":0,"z":-0.1},{"s":"10","g":-200,"t":10,"z":-0.1},{"s":"20","g":-200,"t":20,"z":-0.1},{"s":"30","g":-200,"t":30,"z":-0.1},{"s":"40","g":-200,"t":40,"z":-0.1},{"s":"50","g":-200,"t":50,"z":-0.1},{"s":"60","g":-200,"t":60,"z":-0.1},{"s":"70","g":-200,"t":70,"z":-0.1},{"s":"80","g":-200,"t":80,"z":-0.1},{"s":"90","g":-200,"t":90,"z":-0.1},{"s":"100","g":-200,"t":100,"z":-0.1}]},
"transform":[{"calculate":"186.5+1.6575*(datum.g+200)+2.4*datum.t","as":"sx"},{"calculate":"400-0.186*(datum.g+200)+1.98*datum.t-230*datum.z","as":"sy"}],
"mark":{"type":"text","font":"Liberation Sans","fontSize":10.5,"color":"#444444","align":"right","baseline":"middle","dx":-9},
"encoding":{"text":{"field":"s"},"x":{"field":"sx","type":"quantitative","scale":{"domain":[0,1280],"nice":false,"zero":false},"axis":null},"y":{"field":"sy","type":"quantitative","scale":{"domain":[680,40],"nice":false,"zero":false},"axis":null}}},
{"data":{"values":[{"s":"-200","g":-200,"t":100,"z":-0.1},{"s":"-150","g":-150,"t":100,"z":-0.1},{"s":"-100","g":-100,"t":100,"z":-0.1},{"s":"-50","g":-50,"t":100,"z":-0.1},{"s":"0","g":0,"t":100,"z":-0.1},{"s":"50","g":50,"t":100,"z":-0.1},{"s":"100","g":100,"t":100,"z":-0.1},{"s":"150","g":150,"t":100,"z":-0.1},{"s":"200","g":200,"t":100,"z":-0.1},{"s":"time","g":-298.6,"t":45.8,"z":-0.1},{"s":"GS (left)","g":-14.6,"t":120.5,"z":-0.1},{"s":"DI (right)","g":18.3,"t":123.6,"z":-0.1}]},
"transform":[{"calculate":"186.5+1.6575*(datum.g+200)+2.4*datum.t","as":"sx"},{"calculate":"400-0.186*(datum.g+200)+1.98*datum.t-230*datum.z","as":"sy"}],
"mark":{"type":"text","font":"Liberation Sans","fontSize":10.5,"color":"#444444","align":"center","baseline":"middle","dx":7,"dy":9},
"encoding":{"text":{"field":"s"},"x":{"field":"sx","type":"quantitative","scale":{"domain":[0,1280],"nice":false,"zero":false},"axis":null},"y":{"field":"sy","type":"quantitative","scale":{"domain":[680,40],"nice":false,"zero":false},"axis":null}}},
{"data":{"values":[{"v":0.1},{"v":0.2},{"v":0.3},{"v":0.4},{"v":0.5},{"v":0.6},{"v":0.7},{"v":0.8},{"v":0.9}]},
"transform":[{"calculate":"408-212*datum.v","as":"sy"}],
"mark":{"type":"rule","color":"#333333","strokeWidth":1},
"encoding":{"x":{"datum":1143,"type":"quantitative","scale":{"domain":[0,1280],"nice":false,"zero":false},"axis":null},"x2":{"datum":1149},"y":{"field":"sy","type":"quantitative","scale":{"domain":[680,40],"nice":false,"zero":false},"axis":null}}},
{"data":{"values":[{"v":0.1},{"v":0.2},{"v":0.3},{"v":0.4},{"v":0.5},{"v":0.6},{"v":0.7},{"v":0.8},{"v":0.9}]},
"transform":[{"calculate":"408-212*datum.v","as":"sy"}],
"mark":{"type":"rule","color":"#333333","strokeWidth":1},
"encoding":{"x":{"datum":1186,"type":"quantitative","scale":{"domain":[0,1280],"nice":false,"zero":false},"axis":null},"x2":{"datum":1192},"y":{"field":"sy","type":"quantitative","scale":{"domain":[680,40],"nice":false,"zero":false},"axis":null}}},
{"data":{"values":[{"v":0,"s":"0"},{"v":0.1,"s":"0.1"},{"v":0.2,"s":"0.2"},{"v":0.3,"s":"0.3"},{"v":0.4,"s":"0.4"},{"v":0.5,"s":"0.5"},{"v":0.6,"s":"0.6"},{"v":0.7,"s":"0.7"},{"v":0.8,"s":"0.8"},{"v":0.9,"s":"0.9"},{"v":1,"s":"1"}]},
"transform":[{"calculate":"408-212*datum.v","as":"sy"}],
"mark":{"type":"text","font":"Liberation Sans","fontSize":10.5,"color":"#444444","align":"left","baseline":"middle"},
"encoding":{"text":{"field":"s"},"x":{"datum":1200,"type":"quantitative","scale":{"domain":[0,1280],"nice":false,"zero":false},"axis":null},"y":{"field":"sy","type":"quantitative","scale":{"domain":[680,40],"nice":false,"zero":false},"axis":null}}},
{"data":{"values":[{"label":"box"}]},"mark":{"type":"rect","color":"#0000ff"},"encoding":{"x":{"datum":571,"type":"quantitative","scale":{"domain":[0,1280],"nice":false,"zero":false},"axis":null},"x2":{"datum":708},"y":{"datum":41,"type":"quantitative","scale":{"domain":[680,40],"nice":false,"zero":false},"axis":null},"y2":{"datum":108}}},
{"data":{"values":[{"label":"10s"}]},"mark":{"type":"text","font":"Liberation Sans","fontWeight":"bold","fontStyle":"italic","fontSize":58,"fill":"#111122","stroke":"#111122","strokeWidth":6,"align":"center","baseline":"alphabetic"},"encoding":{"text":{"field":"label"},"x":{"datum":639,"type":"quantitative","scale":{"domain":[0,1280],"nice":false,"zero":false},"axis":null},"y":{"datum":94,"type":"quantitative","scale":{"domain":[680,40],"nice":false,"zero":false},"axis":null}}},
{"data":{"values":[{"label":"10s"}]},"mark":{"type":"text","font":"Liberation Sans","fontWeight":"bold","fontStyle":"italic","fontSize":58,"fill":"#eeeef6","stroke":"#eeeef6","strokeWidth":1.5,"align":"center","baseline":"alphabetic"},"encoding":{"text":{"field":"label"},"x":{"datum":639,"type":"quantitative","scale":{"domain":[0,1280],"nice":false,"zero":false},"axis":null},"y":{"datum":94,"type":"quantitative","scale":{"domain":[680,40],"nice":false,"zero":false},"axis":null}}},
{"data":{"values":[{"label":"Converged"}]},"mark":{"type":"text","font":"Liberation Sans","fontWeight":"bold","fontStyle":"italic","fontSize":58,"fill":"#ffffff","fillOpacity":0.35,"stroke":"#808080","strokeOpacity":0.8,"strokeWidth":3,"align":"center","baseline":"alphabetic"},"encoding":{"text":{"field":"label"},"x":{"datum":364,"type":"quantitative","scale":{"domain":[0,1280],"nice":false,"zero":false},"axis":null},"y":{"datum":267,"type":"quantitative","scale":{"domain":[680,40],"nice":false,"zero":false},"axis":null}}}
]}
